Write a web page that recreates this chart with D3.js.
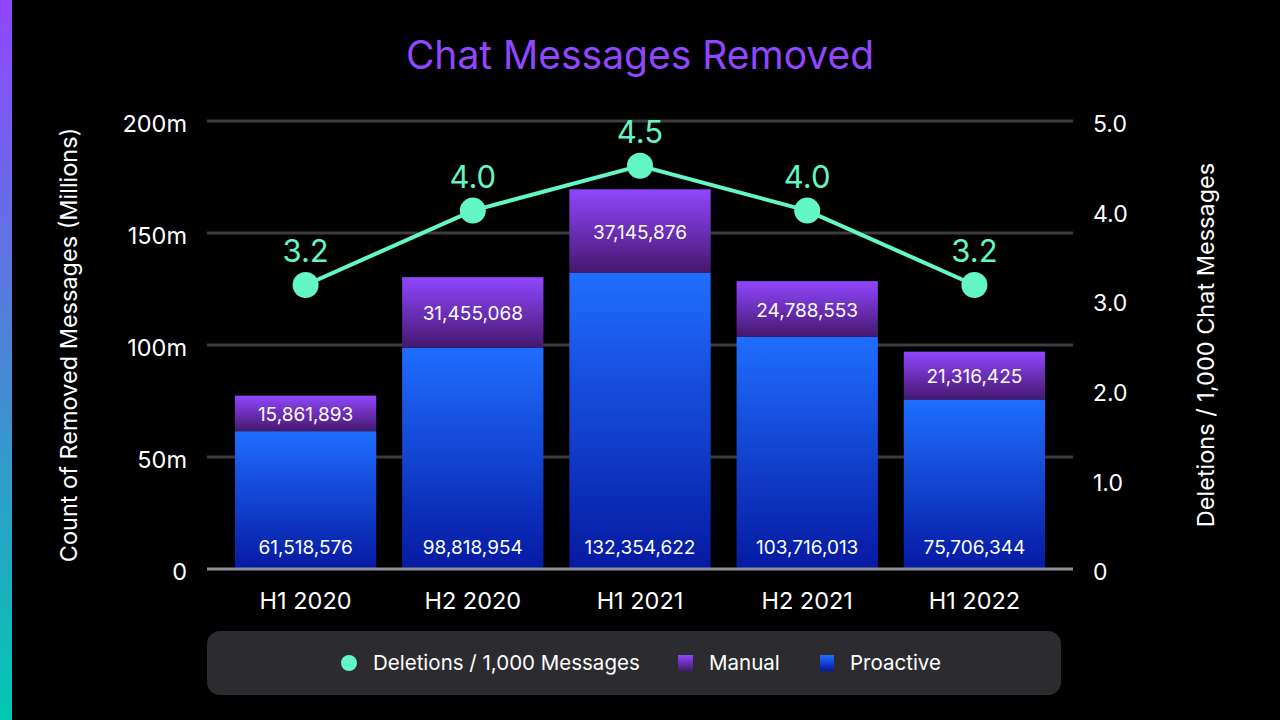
<!DOCTYPE html>
<html>
<head>
<meta charset="utf-8">
<script src="https://cdn.jsdelivr.net/npm/d3@7"></script>
<style>
  body { margin: 0; background: #000; }
  svg { display: block; font-family: Inter, "Noto Sans", sans-serif; }
</style>
</head>
<body>
<div class="chart"></div>
<script>
var periods = ["H1 2020", "H2 2020", "H1 2021", "H2 2021", "H1 2022"];
var proactive = [61518576, 98818954, 132354622, 103716013, 75706344];
var manual = [15861893, 31455068, 37145876, 24788553, 21316425];
var rate = [3.17, 4.0, 4.5, 4.0, 3.17];
var leftTicks = [0, 50e6, 100e6, 150e6, 200e6];
var rightTicks = [0, 1, 2, 3, 4, 5];

var width = 1280, height = 720;
var mint = "#62f7c4", purple = "#9147ff";

var svg = d3.select(".chart").append("svg")
    .attr("width", width)
    .attr("height", height);

var defs = svg.append("defs");

function grad(id, top, bottom) {
  var g = defs.append("linearGradient").attr("id", id)
    .attr("x1", 0).attr("y1", 0).attr("x2", 0).attr("y2", 1);
  g.append("stop").attr("offset", "0%").attr("stop-color", top);
  g.append("stop").attr("offset", "100%").attr("stop-color", bottom);
}
grad("gProactive", "#1f6eff", "#0619a2");
grad("gManual", "#9146ff", "#45186e");
grad("gEdge", "#9146ff", "#00c8b0");

svg.append("rect").attr("width", width).attr("height", height).attr("fill", "#000");
svg.append("rect").attr("x", 0).attr("y", 0).attr("width", 12).attr("height", height)
  .attr("fill", "url(#gEdge)");

// title
svg.append("text")
  .attr("x", 640).attr("y", 69)
  .attr("text-anchor", "middle")
  .style("font-size", "39px")
  .style("fill", purple)
  .text("Chat Messages Removed");

var y = d3.scaleLinear().domain([0, 200e6]).range([569, 121]);
var y2 = d3.scaleLinear().domain([0, 5]).range([569, 121]);
var x = d3.scaleBand().domain(periods).range([222, 1058]).paddingInner(0.155).paddingOuter(0.0775);

// gridlines
svg.selectAll(".grid")
  .data(leftTicks.filter(function(d) { return d > 0; }))
  .enter().append("line")
    .attr("x1", 207).attr("x2", 1073)
    .attr("y1", function(d) { return y(d); })
    .attr("y2", function(d) { return y(d); })
    .style("stroke", "#3c3c42")
    .style("stroke-width", 3);

// left axis labels
var fmtM = function(d) { return d === 0 ? "0" : (d / 1e6) + "m"; };
svg.selectAll(".ltick")
  .data(leftTicks)
  .enter().append("text")
    .attr("x", 187)
    .attr("y", function(d) { return y(d) + 3; })
    .attr("dy", "0.36em")
    .attr("text-anchor", "end")
    .style("font-size", "23.5px")
    .style("fill", "#fff")
    .text(fmtM);

// right axis labels
svg.selectAll(".rtick")
  .data(rightTicks)
  .enter().append("text")
    .attr("x", 1093)
    .attr("y", function(d) { return y2(d) + 3; })
    .attr("dy", "0.36em")
    .style("font-size", "23px")
    .style("fill", "#fff")
    .text(function(d) { return d === 0 ? "0" : d3.format(".1f")(d); });

// axis titles
svg.append("text")
  .attr("transform", "translate(77,345) rotate(-90)")
  .attr("text-anchor", "middle")
  .style("font-size", "23.5px")
  .style("fill", "#fff")
  .text("Count of Removed Messages (Millions)");

svg.append("text")
  .attr("transform", "translate(1214,345) rotate(-90)")
  .attr("text-anchor", "middle")
  .style("font-size", "23.5px")
  .style("fill", "#fff")
  .text("Deletions / 1,000 Chat Messages");

var fmt = d3.format(",");

// bars
var bars = svg.selectAll(".bar")
  .data(periods)
  .enter().append("g");

bars.append("rect")
  .attr("x", function(d) { return x(d); })
  .attr("width", x.bandwidth())
  .attr("y", function(d, i) { return y(proactive[i]); })
  .attr("height", function(d, i) { return y(0) - y(proactive[i]); })
  .style("fill", "url(#gProactive)");

bars.append("rect")
  .attr("x", function(d) { return x(d); })
  .attr("width", x.bandwidth())
  .attr("y", function(d, i) { return y(proactive[i] + manual[i]); })
  .attr("height", function(d, i) { return y(proactive[i]) - y(proactive[i] + manual[i]); })
  .style("fill", "url(#gManual)");

bars.append("text")
  .attr("x", function(d) { return x(d) + x.bandwidth() / 2; })
  .attr("y", 554)
  .attr("text-anchor", "middle")
  .style("font-size", "19px")
  .style("fill", "#fff")
  .text(function(d, i) { return fmt(proactive[i]); });

bars.append("text")
  .attr("x", function(d) { return x(d) + x.bandwidth() / 2; })
  .attr("y", function(d, i) { return (y(proactive[i]) + y(proactive[i] + manual[i])) / 2 + 1; })
  .attr("dy", "0.36em")
  .attr("text-anchor", "middle")
  .style("font-size", "19px")
  .style("fill", "#fff")
  .text(function(d, i) { return fmt(manual[i]); });

// baseline
svg.append("line")
  .attr("x1", 207).attr("x2", 1073)
  .attr("y1", y(0)).attr("y2", y(0))
  .style("stroke", "#8e8e96")
  .style("stroke-width", 3);

// category labels
svg.selectAll(".cat")
  .data(periods)
  .enter().append("text")
    .attr("x", function(d) { return x(d) + x.bandwidth() / 2; })
    .attr("y", 609)
    .attr("text-anchor", "middle")
    .style("font-size", "23.5px")
    .style("fill", "#fff")
    .text(function(d) { return d; });

// rate line
var line = d3.line()
  .x(function(d, i) { return x(periods[i]) + x.bandwidth() / 2; })
  .y(function(d) { return y2(d); });

svg.append("path")
  .datum(rate)
  .attr("d", line)
  .style("fill", "none")
  .style("stroke", mint)
  .style("stroke-width", 4);

svg.selectAll(".dot")
  .data(rate)
  .enter().append("circle")
    .attr("cx", function(d, i) { return x(periods[i]) + x.bandwidth() / 2; })
    .attr("cy", function(d) { return y2(d); })
    .attr("r", 13)
    .style("fill", mint);

svg.selectAll(".rlabel")
  .data(rate)
  .enter().append("text")
    .attr("x", function(d, i) { return x(periods[i]) + x.bandwidth() / 2; })
    .attr("y", function(d) { return y2(d) - 23; })
    .attr("text-anchor", "middle")
    .style("font-size", "31px")
    .style("fill", mint)
    .text(function(d) { return d3.format(".1f")(d); });

// legend
svg.append("rect")
  .attr("x", 207).attr("y", 631)
  .attr("width", 854).attr("height", 64)
  .attr("rx", 13)
  .style("fill", "#2c2c30");

var lg = svg.append("g");
lg.append("circle").attr("cx", 349).attr("cy", 663).attr("r", 8).style("fill", mint);
lg.append("text").attr("x", 373).attr("y", 663).attr("dy", "0.36em")
  .style("font-size", "20.5px").style("fill", "#fff").text("Deletions / 1,000 Messages");
lg.append("rect").attr("x", 678).attr("y", 655).attr("width", 15).attr("height", 16)
  .style("fill", "url(#gManual)");
lg.append("text").attr("x", 709).attr("y", 663).attr("dy", "0.36em")
  .style("font-size", "20.5px").style("fill", "#fff").text("Manual");
lg.append("rect").attr("x", 820).attr("y", 655).attr("width", 14).attr("height", 16)
  .style("fill", "url(#gProactive)");
lg.append("text").attr("x", 850).attr("y", 663).attr("dy", "0.36em")
  .style("font-size", "20.5px").style("fill", "#fff").text("Proactive");
</script>
</body>
</html>
